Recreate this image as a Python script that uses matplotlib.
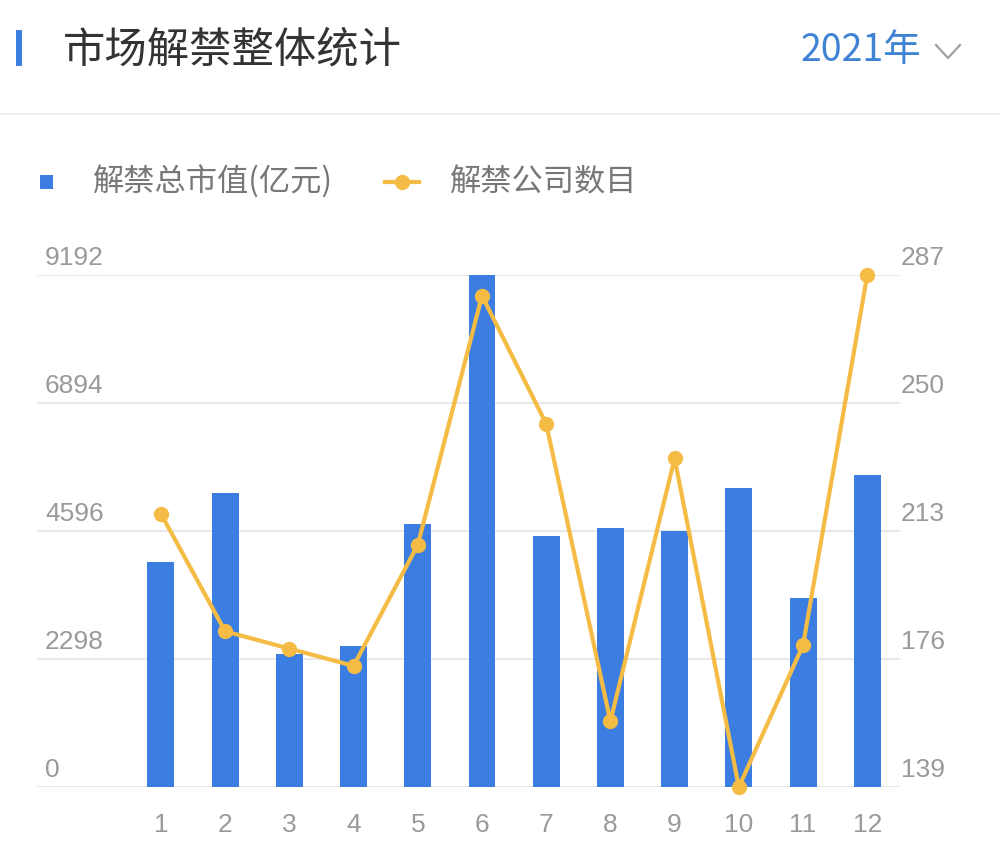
import matplotlib.pyplot as plt
import matplotlib.transforms as mtransforms
from matplotlib.lines import Line2D
from matplotlib.patches import Rectangle

plt.rcParams['font.family'] = ['Noto Sans CJK SC', 'DejaVu Sans']

months = [1, 2, 3, 4, 5, 6, 7, 8, 9, 10, 11, 12]
market_value = [4040, 5278, 2388, 2531, 4721, 9192, 4506, 4649, 4596, 5368, 3393, 5601]
company_count = [218, 184, 179, 174, 209, 281, 244, 158, 234, 139, 180, 287]
left_ticks = [0, 2298, 4596, 6894, 9192]
right_ticks = [139, 176, 213, 250, 287]

BLUE = '#3b7de0'
ORANGE = '#f5bc45'
GRID = '#e8e8e8'
TICK = '#9a9a9a'

fig = plt.figure(figsize=(10, 8.51), dpi=100)

# header
fig.add_artist(Rectangle((0.016, 1 - 66 / 851), 0.006, 36 / 851, transform=fig.transFigure,
                         color='#3b7de0', lw=0))
fig.text(0.063, 1 - 50 / 851, '市场解禁整体统计', fontsize=30.5, color='#333333', va='center')
fig.text(0.921, 1 - 50 / 851, '2021年', fontsize=27, color='#3f84d4', va='center', ha='right')
fig.add_artist(Line2D([0.936, 0.948, 0.960], [1 - 45 / 851, 1 - 58 / 851, 1 - 45 / 851],
                      transform=fig.transFigure, color='#a0a0a0', lw=1.6))
fig.add_artist(Line2D([0, 1], [1 - 114 / 851] * 2, transform=fig.transFigure, color='#ececec', lw=1.2))

# legend
fig.add_artist(Rectangle((0.040, 1 - 189 / 851), 0.013, 14 / 851, transform=fig.transFigure,
                         color=BLUE, lw=0))
fig.text(0.092, 1 - 182 / 851, '解禁总市值(亿元)', fontsize=22.5, color='#777777', va='center')
fig.add_artist(Line2D([0.385, 0.419], [1 - 182 / 851] * 2, transform=fig.transFigure,
                      color=ORANGE, lw=3))
fig.add_artist(Line2D([0.402], [1 - 182 / 851], transform=fig.transFigure,
                      color=ORANGE, marker='o', markersize=10, lw=0))
fig.text(0.449, 1 - 182 / 851, '解禁公司数目', fontsize=22.5, color='#777777', va='center')

# chart
ax = fig.add_axes([0.037, 1 - 787 / 851, 0.863, 512 / 851])
ax.bar(months, market_value, width=0.42, color=BLUE, zorder=2)
ax.set_xlim(-0.93, 12.51)
ax.set_ylim(0, 9192)
for v in left_ticks:
    ax.axhline(v, color=GRID, lw=1.5, zorder=1)
for s in ax.spines.values():
    s.set_visible(False)
ax.set_yticks([])
ax.set_xticks(months)
ax.set_xticklabels([str(m) for m in months], fontsize=19, color=TICK, family=['Liberation Sans'])
ax.tick_params(axis='x', length=0, pad=19)

trans_l = mtransforms.blended_transform_factory(fig.transFigure, ax.transData)
offset = mtransforms.ScaledTranslation(0, 5 / 100, fig.dpi_scale_trans)
for v in left_ticks:
    ax.text(0.045, v, str(v), transform=trans_l + offset, fontsize=19, color=TICK,
            va='bottom', ha='left', family=['Liberation Sans'])

ax2 = ax.twinx()
ax2.plot(months, company_count, color=ORANGE, lw=3, marker='o', markersize=10, zorder=3,
         clip_on=False)
ax2.set_ylim(139, 287)
ax2.set_yticks([])
for s in ax2.spines.values():
    s.set_visible(False)
trans_r = mtransforms.blended_transform_factory(fig.transFigure, ax2.transData)
for v in right_ticks:
    ax2.text(0.901, v, str(v), transform=trans_r + offset, fontsize=19, color=TICK,
             va='bottom', ha='left', family=['Liberation Sans'])

fig.savefig('out.png', dpi=100)
